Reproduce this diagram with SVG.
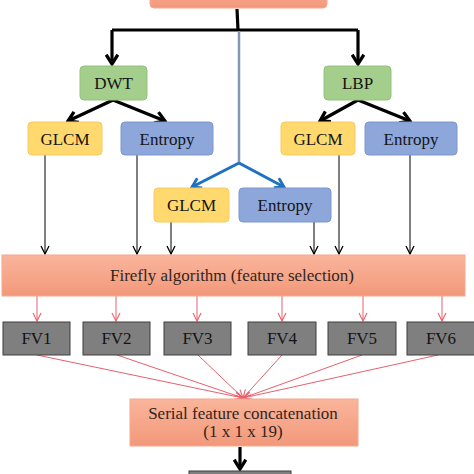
<svg xmlns="http://www.w3.org/2000/svg" width="474" height="474" viewBox="0 0 474 474">
<defs>
<linearGradient id="salmon" x1="0" y1="0" x2="0" y2="1">
<stop offset="0" stop-color="#F9B59B"/>
<stop offset="1" stop-color="#F3987A"/>
</linearGradient>
<marker id="bigBlack" markerUnits="userSpaceOnUse" viewBox="0 0 12 12" refX="10" refY="6" markerWidth="14" markerHeight="14" orient="auto">
<path d="M2,1 L10,6 L2,11" fill="none" stroke="#000" stroke-width="2.8" stroke-linejoin="miter"/>
</marker>
<marker id="bigBlue" markerUnits="userSpaceOnUse" viewBox="0 0 12 12" refX="10" refY="6" markerWidth="13" markerHeight="13" orient="auto">
<path d="M2,1 L10,6 L2,11" fill="none" stroke="#1F70BF" stroke-width="2.6"/>
</marker>
<marker id="thinBlack" markerUnits="userSpaceOnUse" viewBox="0 0 10 10" refX="9" refY="5" markerWidth="10" markerHeight="10" orient="auto">
<path d="M1,1 L9,5 L1,9" fill="none" stroke="#000" stroke-width="1.3"/>
</marker>
<marker id="thinRed" markerUnits="userSpaceOnUse" viewBox="0 0 10 10" refX="9" refY="5" markerWidth="10" markerHeight="10" orient="auto">
<path d="M1,1 L9,5 L1,9" fill="none" stroke="#E8606E" stroke-width="1.1"/>
</marker>
</defs>
<style>
text { font-family: "Liberation Serif", "Times New Roman", serif; fill: #141414; text-anchor: middle; }
.lbl { font-size: 17px; }
.green { fill: #A3CE8C; stroke: #93C47D; stroke-width: 1; }
.yellow { fill: #FFD86E; stroke: #F5CC60; stroke-width: 1; }
.blue { fill: #8EA7DB; stroke: #7C96CC; stroke-width: 1; }
.gray { fill: #7F7F7F; stroke: #3F3F3F; stroke-width: 1; }
.salmon { fill: url(#salmon); stroke: #F4AA8E; stroke-width: 1; }
.thick { fill: none; stroke: #000; stroke-width: 3.2; }
.thin { fill: none; stroke: #000; stroke-width: 1; marker-end: url(#thinBlack); }
.red { fill: none; stroke: #E8606E; stroke-width: 1; marker-end: url(#thinRed); }
.bl { fill: none; stroke: #1F70BF; stroke-width: 3; marker-end: url(#bigBlue); }
.dark { fill: #33241d; }
</style>
<rect width="474" height="474" fill="#fff"/>

<g id="connectors">
<path class="thick" d="M237,9 L238,30"/>
<path class="thick" d="M112,30 H358"/>
<path class="thick" d="M112,30 V64" marker-end="url(#bigBlack)"/>
<path class="thick" d="M358,30 V64" marker-end="url(#bigBlack)"/>
<path fill="none" stroke="#8597B3" stroke-width="2.5" d="M239,31 V164"/>
<path class="bl" d="M239,163 L192,187"/>
<path class="bl" d="M239,163 L284,187"/>
<path class="thick" d="M113,100 L68,121" marker-end="url(#bigBlack)"/>
<path class="thick" d="M113,100 L165,121" marker-end="url(#bigBlack)"/>
<path class="thick" d="M358,100 L320,121" marker-end="url(#bigBlack)"/>
<path class="thick" d="M358,100 L410,121" marker-end="url(#bigBlack)"/>
<path class="thin" d="M45,155 V254"/>
<path class="thin" d="M137,155 V254"/>
<path class="thin" d="M171,222 V254"/>
<path class="thin" d="M314,222 V254"/>
<path class="thin" d="M339,155 V254"/>
<path class="thin" d="M410,155 V254"/>
<path class="red" d="M37,296 V321"/>
<path class="red" d="M116,296 V321"/>
<path class="red" d="M197,296 V321"/>
<path class="red" d="M282,296 V321"/>
<path class="red" d="M363,296 V321"/>
<path class="red" d="M442,296 V321"/>
<path class="red" d="M37,355 L243,398"/>
<path class="red" d="M117,355 L243,398"/>
<path class="red" d="M198,355 L243,398"/>
<path class="red" d="M282,355 L243,398"/>
<path class="red" d="M362,355 L243,398"/>
<path class="red" d="M438,355 L243,398"/>
<path class="thick" d="M240,447 V469" marker-end="url(#bigBlack)"/>
</g>

<g id="top-node"><rect class="salmon" x="150" y="-20" width="177" height="28" rx="4"/></g>

<g id="dwt"><rect class="green" x="80" y="66" width="67" height="34" rx="4"/><text class="lbl" x="113.5" y="89">DWT</text></g>
<g id="lbp"><rect class="green" x="324" y="66" width="67" height="34" rx="4"/><text class="lbl" x="357.5" y="89">LBP</text></g>

<g id="glcm-dwt"><rect class="yellow" x="28" y="122" width="74" height="33" rx="4"/><text class="lbl" x="65" y="144.5">GLCM</text></g>
<g id="entropy-dwt"><rect class="blue" x="121" y="122" width="92" height="33" rx="4"/><text class="lbl" x="167" y="144.5">Entropy</text></g>
<g id="glcm-lbp"><rect class="yellow" x="281" y="122" width="74" height="33" rx="4"/><text class="lbl" x="318" y="144.5">GLCM</text></g>
<g id="entropy-lbp"><rect class="blue" x="365" y="122" width="92" height="33" rx="4"/><text class="lbl" x="411" y="144.5">Entropy</text></g>

<g id="glcm-mid"><rect class="yellow" x="154" y="188" width="75" height="34" rx="4"/><text class="lbl" x="191.5" y="211">GLCM</text></g>
<g id="entropy-mid"><rect class="blue" x="239" y="188" width="92" height="34" rx="4"/><text class="lbl" x="285" y="211">Entropy</text></g>

<g id="firefly"><rect class="salmon" x="2" y="255" width="463" height="41"/><text class="lbl dark" x="232" y="281">Firefly algorithm (feature selection)</text></g>

<g id="fv1"><rect class="gray" x="3" y="322" width="67" height="33"/><text class="lbl" x="36.5" y="344">FV1</text></g>
<g id="fv2"><rect class="gray" x="83" y="322" width="67" height="33"/><text class="lbl" x="116.5" y="344">FV2</text></g>
<g id="fv3"><rect class="gray" x="164" y="322" width="67" height="33"/><text class="lbl" x="197.5" y="344">FV3</text></g>
<g id="fv4"><rect class="gray" x="248" y="322" width="68" height="33"/><text class="lbl" x="282" y="344">FV4</text></g>
<g id="fv5"><rect class="gray" x="328" y="322" width="68" height="33"/><text class="lbl" x="362" y="344">FV5</text></g>
<g id="fv6"><rect class="gray" x="407" y="322" width="68" height="33"/><text class="lbl" x="441" y="344">FV6</text></g>

<g id="serial"><rect class="salmon" x="130" y="399" width="228" height="47"/><text class="lbl dark" x="243" y="419">Serial feature concatenation</text><text class="lbl dark" x="243" y="437">(1 x 1 x 19)</text></g>

<g id="bottom-node"><rect class="gray" x="189" y="471" width="102" height="20"/></g>
</svg>
